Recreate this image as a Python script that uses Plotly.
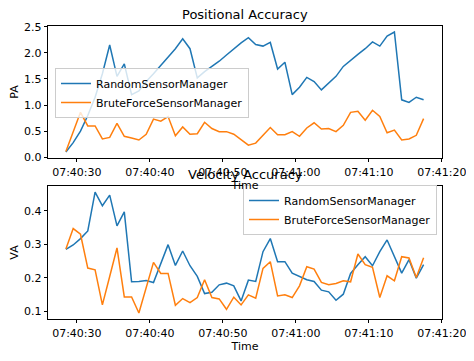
import plotly.graph_objects as go
from plotly.subplots import make_subplots

DATE = "2024-01-01 "
TIMES = [
    "07:40:28.5", "07:40:29.5", "07:40:30.5", "07:40:31.5", "07:40:32.5",
    "07:40:33.5", "07:40:34.5", "07:40:35.5", "07:40:36.5", "07:40:37.5",
    "07:40:38.5", "07:40:39.5", "07:40:40.5", "07:40:41.5", "07:40:42.5",
    "07:40:43.5", "07:40:44.5", "07:40:45.5", "07:40:46.5", "07:40:47.5",
    "07:40:48.5", "07:40:49.5", "07:40:50.5", "07:40:51.5", "07:40:52.5",
    "07:40:53.5", "07:40:54.5", "07:40:55.5", "07:40:56.5", "07:40:57.5",
    "07:40:58.5", "07:40:59.5", "07:41:00.5", "07:41:01.5", "07:41:02.5",
    "07:41:03.5", "07:41:04.5", "07:41:05.5", "07:41:06.5", "07:41:07.5",
    "07:41:08.5", "07:41:09.5", "07:41:10.5", "07:41:11.5", "07:41:12.5",
    "07:41:13.5", "07:41:14.5", "07:41:15.5", "07:41:16.5", "07:41:17.5",
]

PA_RANDOM = [
    0.10, 0.28, 0.50, 0.80, 1.15, 1.60, 2.15, 1.55, 1.79, 1.20,
    1.27, 1.45, 1.60, 1.76, 1.92, 2.08, 2.27, 2.08, 1.52, 1.64,
    1.74, 1.84, 1.96, 2.08, 2.19, 2.29, 2.16, 2.13, 2.20, 1.69,
    1.82, 1.20, 1.34, 1.53, 1.45, 1.29, 1.42, 1.55, 1.74, 1.86,
    1.97, 2.08, 2.21, 2.13, 2.32, 2.40, 1.10, 1.05, 1.15, 1.10,
]
PA_BRUTE = [
    0.11, 0.48, 0.86, 0.60, 0.60, 0.35, 0.38, 0.65, 0.40, 0.37,
    0.33, 0.44, 0.73, 0.69, 0.78, 0.41, 0.58, 0.44, 0.45, 0.67,
    0.55, 0.49, 0.49, 0.44, 0.33, 0.23, 0.27, 0.41, 0.57, 0.43,
    0.43, 0.49, 0.40, 0.56, 0.66, 0.54, 0.55, 0.49, 0.61, 0.86,
    0.88, 0.71, 0.90, 0.78, 0.47, 0.52, 0.33, 0.35, 0.42, 0.74,
]
VA_RANDOM = [
    0.285, 0.298, 0.317, 0.340, 0.456, 0.415, 0.447, 0.355, 0.397, 0.188,
    0.189, 0.192, 0.186, 0.241, 0.299, 0.237, 0.280, 0.236, 0.204, 0.153,
    0.157, 0.179, 0.184, 0.176, 0.131, 0.193, 0.189, 0.278, 0.317, 0.248,
    0.248, 0.214, 0.203, 0.194, 0.189, 0.163, 0.158, 0.133, 0.151, 0.213,
    0.239, 0.263, 0.236, 0.278, 0.313, 0.266, 0.214, 0.254, 0.199, 0.239,
]
VA_BRUTE = [
    0.286, 0.347, 0.330, 0.229, 0.224, 0.119, 0.204, 0.289, 0.143, 0.143,
    0.095, 0.171, 0.246, 0.213, 0.213, 0.118, 0.138, 0.126, 0.141, 0.194,
    0.141, 0.137, 0.106, 0.142, 0.119, 0.149, 0.139, 0.228, 0.248, 0.146,
    0.149, 0.141, 0.176, 0.233, 0.226, 0.186, 0.179, 0.183, 0.191, 0.188,
    0.271, 0.239, 0.231, 0.141, 0.206, 0.191, 0.263, 0.259, 0.201, 0.260,
]

SERIES_NAMES = ["RandomSensorManager", "BruteForceSensorManager"]
COLORS = ["#1f77b4", "#ff7f0e"]
TITLES = ["Positional Accuracy", "Velocity Accuracy"]
YLABELS = ["PA", "VA"]

FONT = "DejaVu Sans"
FS = 11
# page body has an 8px default margin: shrink figure accordingly
OFF = 8
W, H = 474 - OFF, 361 - OFF
ML, MR, MT, MB = 48 - OFF, 32, 26 - OFF, 42

x = [DATE + t for t in TIMES]

fig = make_subplots(rows=2, cols=1, vertical_spacing=0.0)
plot_h = H - MT - MB
plot_w = W - ML - MR
top_dom = [(plot_h - 132) / plot_h, 1.0]
bot_dom = [0.0, (plot_h - 160) / plot_h]

for name, col, ys in zip(SERIES_NAMES, COLORS, [PA_RANDOM, PA_BRUTE]):
    fig.add_trace(go.Scatter(x=x, y=ys, mode="lines", name=name,
                             line=dict(color=col, width=1.5),
                             legend="legend"), row=1, col=1)
for name, col, ys in zip(SERIES_NAMES, COLORS, [VA_RANDOM, VA_BRUTE]):
    fig.add_trace(go.Scatter(x=x, y=ys, mode="lines", name=name,
                             line=dict(color=col, width=1.5),
                             legend="legend2"), row=2, col=1)


def yr(a, b):
    lo, hi = min(a + b), max(a + b)
    m = (hi - lo) * 0.05
    return [lo - m, hi + m]


axis_common = dict(showline=True, mirror=True, linecolor="black", linewidth=0.8,
                   ticks="outside", ticklen=3.5, tickwidth=0.8, tickcolor="black",
                   showgrid=False, zeroline=False, automargin=False,
                   tickfont=dict(family=FONT, size=FS, color="black"))

xrange_ = [DATE + "07:40:26.05", DATE + "07:41:20.02"]
for r in (1, 2):
    fig.update_xaxes(range=xrange_, tickformat="%H:%M:%S", dtick=10000,
                     tick0=DATE + "07:40:30",
                     title=dict(text="Time", font=dict(family=FONT, size=FS, color="black"),
                                standoff=2),
                     row=r, col=1, **axis_common)

fig.update_yaxes(domain=top_dom, range=yr(PA_RANDOM, PA_BRUTE), dtick=0.5,
                 tickformat=".1f",
                 title=dict(text=YLABELS[0], font=dict(family=FONT, size=FS, color="black"),
                            standoff=8),
                 row=1, col=1, **axis_common)
fig.update_yaxes(domain=bot_dom, range=yr(VA_RANDOM, VA_BRUTE), dtick=0.1,
                 tickformat=".1f",
                 title=dict(text=YLABELS[1], font=dict(family=FONT, size=FS, color="black"),
                            standoff=8),
                 row=2, col=1, **axis_common)

legend_common = dict(bgcolor="rgba(255,255,255,0.8)", bordercolor="#cccccc",
                     borderwidth=1, font=dict(family=FONT, size=FS, color="black"),
                     tracegroupgap=0, itemwidth=30)
fig.update_layout(
    width=W, height=H,
    margin=dict(l=ML, r=MR, t=MT, b=MB, autoexpand=False),
    paper_bgcolor="white", plot_bgcolor="white",
    font=dict(family=FONT, color="black"),
    showlegend=True,
    legend=dict(x=(55 - 48) / plot_w, y=(319 - 68) / plot_h,
                xanchor="left", yanchor="top", **legend_common),
    legend2=dict(x=(437 - 48) / plot_w, y=(319 - 185) / plot_h,
                 xanchor="right", yanchor="top", **legend_common),
)

for title, dom in zip(TITLES, [top_dom, bot_dom]):
    fig.add_annotation(text=title, xref="paper", yref="paper", x=0.5, y=dom[1],
                       xanchor="center", yanchor="bottom", yshift=2, showarrow=False,
                       font=dict(family=FONT, size=13, color="black"))

fig.write_html("out.html")
